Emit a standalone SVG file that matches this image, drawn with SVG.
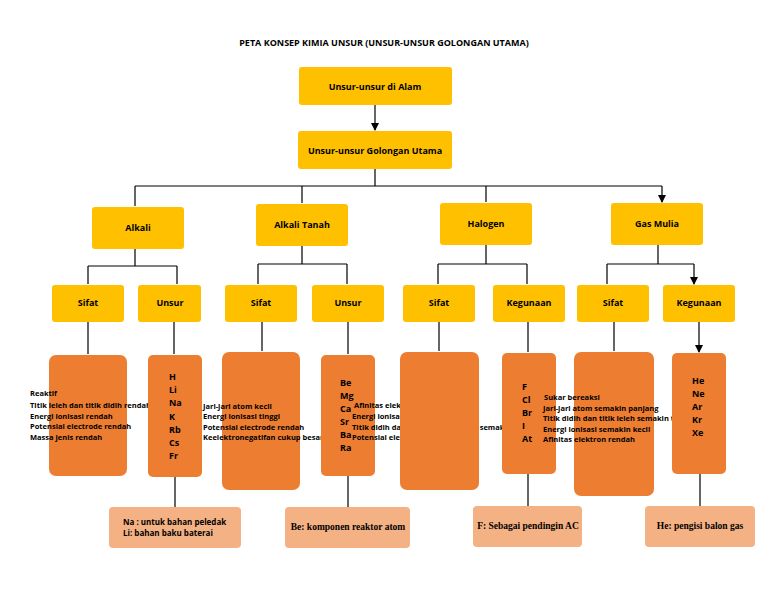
<svg xmlns="http://www.w3.org/2000/svg" width="768" height="594" viewBox="0 0 768 594">
<style>
text{font-family:"Open Sans","Liberation Sans",sans-serif;font-weight:bold;fill:#000}
.y{fill:#FFC000}
.o{fill:#ED7D31}
.l{fill:#F4B183}
.c{stroke:#000;stroke-width:1.2;fill:none}
.a{marker-end:url(#ar)}
.t{font-size:9px;text-anchor:middle}
.s{font-size:7.5px}
.e{font-size:9.5px;text-anchor:middle}
.r{font-family:"Liberation Serif",serif;font-size:9.5px;text-anchor:middle}
</style>
<defs><marker id="ar" markerWidth="8" markerHeight="8" refX="7" refY="4" orient="auto" markerUnits="userSpaceOnUse"><path d="M0,0L8,4L0,8z" fill="#000"/></marker></defs>
<rect width="768" height="594" fill="#fff"/>
<text x="384" y="46" class="t">PETA KONSEP KIMIA UNSUR (UNSUR-UNSUR GOLONGAN UTAMA)</text>
<g id="connectors">
<path class="c a" d="M375,105V130"/>
<path class="c" d="M375,169V186M135,186H662"/>
<path class="c a" d="M135,186V206M302,186V203M486,186V202M662,186V202"/>
<path class="c" d="M135,249V266M88,266H177M302,246V264M258,264H347M486,245V264M438,264H527M658,245V264M607,264H694"/>
<path class="c a" d="M88,266V284M177,266V284M258,264V284M347,264V284M438,264V284M527,264V284M607,264V284M694,264V284"/>
<path class="c a" d="M88,322V354M174,322V354M262,322V351M348,322V354M439,322V351M528,322V352M614,322V351M699,322V352"/>
<path class="c" d="M175,477V507M348,476V507M528,474V506M700,474V506"/>
</g>
<g id="n1"><rect class="y" x="299" y="67" width="153" height="38" rx="3"/><text x="375" y="90" class="t">Unsur-unsur di Alam</text></g>
<g id="n2"><rect class="y" x="298" y="131" width="154" height="38" rx="3"/><text x="375" y="154" class="t">Unsur-unsur Golongan Utama</text></g>
<g id="alkali"><rect class="y" x="92" y="207" width="92" height="42" rx="3"/><text x="138" y="231" class="t">Alkali</text></g>
<g id="alkalitanah"><rect class="y" x="256" y="204" width="92" height="42" rx="3"/><text x="302" y="228" class="t">Alkali Tanah</text></g>
<g id="halogen"><rect class="y" x="440" y="203" width="92" height="42" rx="3"/><text x="486" y="227" class="t">Halogen</text></g>
<g id="gasmulia"><rect class="y" x="611" y="203" width="92" height="42" rx="3"/><text x="657" y="227" class="t">Gas Mulia</text></g>
<g id="s1"><rect class="y" x="52" y="285" width="72" height="37" rx="3"/><text x="88" y="306" class="t">Sifat</text></g>
<g id="u1"><rect class="y" x="138" y="285" width="63" height="37" rx="3"/><text x="170" y="306" class="t">Unsur</text></g>
<g id="s2"><rect class="y" x="225" y="285" width="72" height="37" rx="3"/><text x="261" y="306" class="t">Sifat</text></g>
<g id="u2"><rect class="y" x="312" y="285" width="72" height="37" rx="3"/><text x="348" y="306" class="t">Unsur</text></g>
<g id="s3"><rect class="y" x="403" y="285" width="72" height="37" rx="3"/><text x="439" y="306" class="t">Sifat</text></g>
<g id="k3"><rect class="y" x="493" y="285" width="72" height="37" rx="3"/><text x="529" y="306" class="t">Kegunaan</text></g>
<g id="s4"><rect class="y" x="577" y="285" width="72" height="37" rx="3"/><text x="613" y="306" class="t">Sifat</text></g>
<g id="k4"><rect class="y" x="663" y="285" width="72" height="37" rx="3"/><text x="699" y="306" class="t">Kegunaan</text></g>
<g id="o1"><rect class="o" x="49" y="355" width="78" height="121" rx="7"/>
<text class="s" x="30"><tspan x="30" y="396">Reaktif</tspan><tspan x="30" y="408">Titik leleh dan titik didih rendah</tspan><tspan x="30" y="419">Energi ionisasi rendah</tspan><tspan x="30" y="429">Potensial electrode rendah</tspan><tspan x="30" y="440">Massa jenis rendah</tspan></text></g>
<g id="o2"><rect class="o" x="148" y="355" width="54" height="122" rx="5"/>
<text class="s" style="font-size:9px"><tspan x="169" y="380">H</tspan><tspan x="169" y="393">Li</tspan><tspan x="169" y="406">Na</tspan><tspan x="169" y="420">K</tspan><tspan x="169" y="433">Rb</tspan><tspan x="169" y="446">Cs</tspan><tspan x="169" y="459">Fr</tspan></text></g>
<g id="o3"><rect class="o" x="222" y="352" width="78" height="138" rx="7"/>
<text class="s"><tspan x="203" y="409">Jari-jari atom kecil</tspan><tspan x="203" y="419">Energi ionisasi tinggi</tspan><tspan x="203" y="430">Potensial electrode rendah</tspan><tspan x="203" y="440">Keelektronegatifan cukup besar</tspan></text></g>
<g id="o4"><rect class="o" x="321" y="355" width="54" height="121" rx="5"/>
<text class="s" style="font-size:9px"><tspan x="340" y="386">Be</tspan><tspan x="340" y="399">Mg</tspan><tspan x="340" y="412">Ca</tspan><tspan x="340" y="425">Sr</tspan><tspan x="340" y="438">Ba</tspan><tspan x="340" y="451">Ra</tspan></text>
<text class="s"><tspan x="354" y="408">Afinitas elektron tinggi</tspan><tspan x="352" y="419">Energi ionisasi tinggi</tspan><tspan x="352" y="430">Titik didih dan titik leleh dari F-At semaki</tspan><tspan x="352" y="440">Potensial elektroda tinggi</tspan></text></g>
<g id="o5"><rect class="o" x="400" y="352" width="79" height="138" rx="7"/></g>
<g id="o6"><rect class="o" x="502" y="353" width="54" height="121" rx="5"/>
<text class="s" style="font-size:9px"><tspan x="522" y="390">F</tspan><tspan x="522" y="403">Cl</tspan><tspan x="522" y="416">Br</tspan><tspan x="522" y="429">I</tspan><tspan x="522" y="442">At</tspan></text></g>
<g id="o7"><rect class="o" x="574" y="352" width="80" height="144" rx="7"/>
<text class="s"><tspan x="544" y="400">Sukar bereaksi</tspan><tspan x="543" y="411">Jari-jari atom semakin panjang</tspan><tspan x="543" y="421">Titik didih dan titik leleh semakin tin</tspan><tspan x="543" y="432">Energi ionisasi semakin kecil</tspan><tspan x="543" y="442">Afinitas elektron rendah</tspan></text></g>
<g id="o8"><rect class="o" x="672" y="353" width="54" height="121" rx="5"/>
<text class="s" style="font-size:9px"><tspan x="692" y="384">He</tspan><tspan x="692" y="397">Ne</tspan><tspan x="692" y="410">Ar</tspan><tspan x="692" y="423">Kr</tspan><tspan x="692" y="436">Xe</tspan></text></g>
<g id="l1"><rect class="l" x="109" y="507" width="132" height="41" rx="4"/>
<text class="s" style="font-size:8px"><tspan x="123" y="525">Na : untuk bahan peledak</tspan><tspan x="123" y="536">Li: bahan baku baterai</tspan></text></g>
<g id="l2"><rect class="l" x="285" y="507" width="125" height="41" rx="4"/><text x="348" y="530" class="r">Be: komponen reaktor atom</text></g>
<g id="l3"><rect class="l" x="473" y="506" width="109" height="41" rx="4"/><text x="528" y="529" class="r">F: Sebagai pendingin AC</text></g>
<g id="l4"><rect class="l" x="645" y="506" width="110" height="41" rx="4"/><text x="700" y="529" class="r">He: pengisi balon gas</text></g>
</svg>
